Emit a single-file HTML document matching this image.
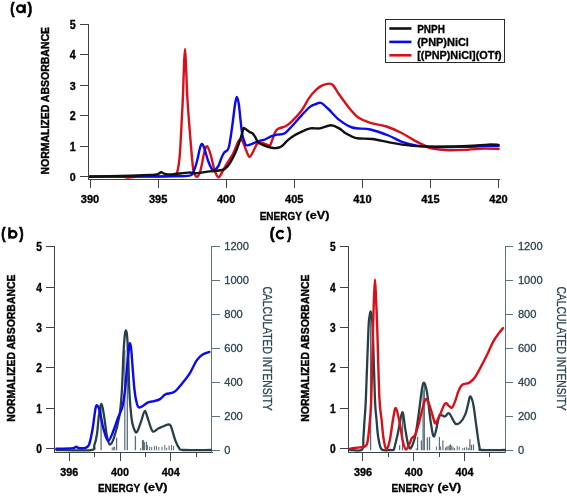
<!DOCTYPE html>
<html><head><meta charset="utf-8"><style>
html,body{margin:0;padding:0;background:#fff;}
svg{display:block;will-change:transform;}
text{font-family:"Liberation Sans",sans-serif;}
</style></head><body>
<svg width="567" height="496" viewBox="0 0 567 496">
<rect width="567" height="496" fill="#fff"/>
<line x1="88.5" y1="24" x2="88.5" y2="180" stroke="#3c4246" stroke-width="1.0"/>
<line x1="88" y1="179.5" x2="500" y2="179.5" stroke="#3c4246" stroke-width="1.0"/>
<line x1="80" y1="176.5" x2="89" y2="176.5" stroke="#3c4246" stroke-width="1.0"/>
<line x1="80" y1="146.5" x2="89" y2="146.5" stroke="#3c4246" stroke-width="1.0"/>
<line x1="80" y1="115.5" x2="89" y2="115.5" stroke="#3c4246" stroke-width="1.0"/>
<line x1="80" y1="85.5" x2="89" y2="85.5" stroke="#3c4246" stroke-width="1.0"/>
<line x1="80" y1="54.5" x2="89" y2="54.5" stroke="#3c4246" stroke-width="1.0"/>
<line x1="80" y1="24.5" x2="89" y2="24.5" stroke="#3c4246" stroke-width="1.0"/>
<line x1="90.5" y1="180" x2="90.5" y2="188" stroke="#3c4246" stroke-width="1.0"/>
<line x1="158.5" y1="180" x2="158.5" y2="188" stroke="#3c4246" stroke-width="1.0"/>
<line x1="226.5" y1="180" x2="226.5" y2="188" stroke="#3c4246" stroke-width="1.0"/>
<line x1="294.5" y1="180" x2="294.5" y2="188" stroke="#3c4246" stroke-width="1.0"/>
<line x1="362.5" y1="180" x2="362.5" y2="188" stroke="#3c4246" stroke-width="1.0"/>
<line x1="430.5" y1="180" x2="430.5" y2="188" stroke="#3c4246" stroke-width="1.0"/>
<line x1="498.5" y1="180" x2="498.5" y2="188" stroke="#3c4246" stroke-width="1.0"/>
<path d="M90.00,176.70 C95.00,176.68 113.50,176.45 120.00,176.60 C126.50,176.75 125.67,177.63 129.00,177.60 C132.33,177.57 134.83,176.63 140.00,176.40 C145.17,176.17 154.25,176.33 160.00,176.20 C165.75,176.07 171.63,176.30 174.50,175.60 C177.37,174.90 176.48,173.93 177.20,172.00 C177.92,170.07 178.32,167.50 178.80,164.00 C179.28,160.50 179.61,158.33 180.10,151.00 C180.59,143.67 181.27,129.33 181.75,120.00 C182.23,110.67 182.62,104.17 183.00,95.00 C183.38,85.83 183.67,72.67 184.00,65.00 C184.33,57.33 184.67,49.00 185.00,49.00 C185.33,49.00 185.63,57.33 186.00,65.00 C186.37,72.67 186.72,85.83 187.20,95.00 C187.68,104.17 188.20,110.67 188.90,120.00 C189.60,129.33 190.78,143.67 191.40,151.00 C192.02,158.33 192.20,160.50 192.60,164.00 C193.00,167.50 193.07,169.85 193.80,172.00 C194.53,174.15 195.97,176.90 197.00,176.90 C198.03,176.90 199.17,174.19 200.00,172.00 C200.83,169.81 201.25,167.21 202.00,163.75 C202.75,160.29 203.62,154.17 204.50,151.25 C205.38,148.33 206.21,145.62 207.25,146.25 C208.29,146.88 209.54,151.04 210.75,155.00 C211.96,158.96 213.21,166.28 214.50,170.00 C215.79,173.72 217.25,176.88 218.50,177.30 C219.75,177.72 220.77,174.50 222.00,172.50 C223.23,170.50 224.05,168.47 225.90,165.30 C227.75,162.13 231.05,157.47 233.10,153.50 C235.15,149.53 236.98,143.83 238.20,141.50 C239.42,139.17 239.60,139.42 240.40,139.50 C241.20,139.58 242.07,140.25 243.00,142.00 C243.93,143.75 244.92,147.50 246.00,150.00 C247.08,152.50 248.33,156.67 249.50,157.00 C250.67,157.33 251.67,154.25 253.00,152.00 C254.33,149.75 255.78,144.97 257.50,143.50 C259.22,142.03 261.28,142.87 263.30,143.20 C265.32,143.53 268.15,145.95 269.60,145.50 C271.05,145.05 271.10,142.67 272.00,140.50 C272.90,138.33 273.98,134.45 275.00,132.50 C276.02,130.55 276.27,129.88 278.10,128.80 C279.93,127.72 283.67,127.28 286.00,126.00 C288.33,124.72 289.47,123.73 292.10,121.10 C294.73,118.47 298.98,114.03 301.80,110.20 C304.62,106.37 306.58,101.52 309.00,98.10 C311.42,94.68 314.08,91.82 316.30,89.70 C318.52,87.58 320.08,86.42 322.30,85.40 C324.52,84.38 327.78,83.60 329.60,83.60 C331.42,83.60 331.60,83.58 333.20,85.40 C334.80,87.22 336.37,90.52 339.20,94.50 C342.03,98.48 347.03,105.48 350.20,109.30 C353.37,113.12 354.85,115.15 358.20,117.40 C361.55,119.65 365.58,121.28 370.30,122.80 C375.02,124.32 381.45,124.88 386.50,126.50 C391.55,128.12 395.90,130.15 400.60,132.50 C405.30,134.85 410.67,138.42 414.70,140.60 C418.73,142.78 422.08,144.32 424.80,145.60 C427.52,146.88 427.03,147.53 431.00,148.30 C434.97,149.07 442.50,149.97 448.60,150.20 C454.70,150.43 461.78,149.97 467.60,149.70 C473.42,149.43 478.33,148.72 483.50,148.60 C488.67,148.48 496.08,148.93 498.60,149.00" fill="none" stroke="#d8101a" stroke-width="2.4" stroke-linejoin="round" stroke-linecap="round"/>
<path d="M90.00,176.50 C96.67,176.50 118.33,176.48 130.00,176.50 C141.67,176.52 153.00,176.63 160.00,176.60 C167.00,176.57 167.08,176.47 172.00,176.30 C176.92,176.13 185.96,176.23 189.50,175.60 C193.04,174.97 192.00,174.89 193.25,172.50 C194.50,170.11 195.86,165.42 197.00,161.25 C198.14,157.08 199.27,150.38 200.10,147.50 C200.93,144.62 201.27,143.79 202.00,144.00 C202.73,144.21 203.46,145.88 204.50,148.75 C205.54,151.62 207.00,157.81 208.25,161.25 C209.50,164.69 211.06,167.84 212.00,169.40 C212.94,170.96 212.86,171.12 213.90,170.60 C214.94,170.07 217.07,168.18 218.25,166.25 C219.43,164.32 220.03,161.28 221.00,159.00 C221.97,156.72 222.83,154.43 224.10,152.60 C225.37,150.77 227.25,152.38 228.60,148.00 C229.95,143.62 231.13,133.55 232.20,126.30 C233.27,119.05 234.23,109.38 235.00,104.50 C235.77,99.62 236.17,97.08 236.80,97.00 C237.43,96.92 238.18,100.17 238.80,104.00 C239.42,107.83 239.93,115.07 240.50,120.00 C241.07,124.93 241.53,129.93 242.20,133.60 C242.87,137.27 243.73,140.03 244.50,142.00 C245.27,143.97 245.05,145.30 246.80,145.40 C248.55,145.50 252.77,143.40 255.00,142.60 C257.23,141.80 258.53,141.12 260.20,140.60 C261.87,140.08 263.08,140.23 265.00,139.50 C266.92,138.77 269.70,137.02 271.70,136.20 C273.70,135.38 274.88,135.05 277.00,134.60 C279.12,134.15 281.88,134.93 284.40,133.50 C286.92,132.07 289.20,129.07 292.10,126.00 C295.00,122.93 298.78,118.33 301.80,115.10 C304.82,111.87 307.83,108.45 310.20,106.60 C312.57,104.75 314.18,104.60 316.00,104.00 C317.82,103.40 319.03,102.17 321.10,103.00 C323.17,103.83 325.38,106.18 328.40,109.00 C331.42,111.82 335.23,116.82 339.20,119.90 C343.17,122.98 347.02,125.90 352.20,127.50 C357.38,129.10 364.25,128.17 370.30,129.50 C376.35,130.83 383.12,133.38 388.50,135.50 C393.88,137.62 397.90,140.52 402.60,142.20 C407.30,143.88 412.33,144.87 416.70,145.60 C421.07,146.33 424.92,146.37 428.80,146.60 C432.68,146.83 433.53,146.95 440.00,147.00 C446.47,147.05 459.55,147.07 467.60,146.90 C475.65,146.73 483.13,146.13 488.30,146.00 C493.47,145.87 496.88,146.08 498.60,146.10" fill="none" stroke="#0a0af0" stroke-width="2.4" stroke-linejoin="round" stroke-linecap="round"/>
<path d="M90.00,176.70 C95.00,176.58 110.00,176.28 120.00,176.00 C130.00,175.72 143.83,175.27 150.00,175.00 C156.17,174.73 155.13,174.85 157.00,174.40 C158.87,173.95 159.95,172.40 161.20,172.30 C162.45,172.20 162.70,173.45 164.50,173.80 C166.30,174.15 168.04,174.60 172.00,174.40 C175.96,174.20 184.08,172.82 188.25,172.60 C192.42,172.38 193.46,173.30 197.00,173.10 C200.54,172.90 205.33,171.92 209.50,171.40 C213.67,170.88 218.97,170.87 222.00,170.00 C225.03,169.13 225.53,168.95 227.70,166.20 C229.87,163.45 232.88,158.03 235.00,153.50 C237.12,148.97 239.05,143.00 240.40,139.00 C241.75,135.00 242.47,131.30 243.10,129.50 C243.73,127.70 243.13,127.80 244.20,128.20 C245.27,128.60 248.08,131.02 249.50,131.90 C250.92,132.78 251.73,132.62 252.70,133.50 C253.67,134.38 254.42,135.78 255.30,137.20 C256.18,138.62 256.67,140.67 258.00,142.00 C259.33,143.33 261.02,144.23 263.30,145.20 C265.58,146.17 269.23,147.37 271.70,147.80 C274.17,148.23 276.33,148.15 278.10,147.80 C279.87,147.45 280.72,146.93 282.30,145.70 C283.88,144.47 285.48,142.17 287.60,140.40 C289.72,138.63 292.93,136.42 295.00,135.10 C297.07,133.78 297.47,133.62 300.00,132.50 C302.53,131.38 306.88,129.08 310.20,128.40 C313.52,127.72 316.47,128.92 319.90,128.40 C323.33,127.88 327.58,125.30 330.80,125.30 C334.02,125.30 336.65,127.03 339.20,128.40 C341.75,129.77 343.27,131.88 346.10,133.50 C348.93,135.12 351.83,137.18 356.20,138.10 C360.57,139.02 366.58,138.25 372.30,139.00 C378.02,139.75 384.12,141.50 390.50,142.60 C396.88,143.70 404.22,144.93 410.60,145.60 C416.98,146.27 424.58,146.42 428.80,146.60 C433.02,146.78 429.43,146.82 435.90,146.70 C442.37,146.58 458.87,146.25 467.60,145.90 C476.33,145.55 483.13,144.77 488.30,144.60 C493.47,144.43 496.88,144.85 498.60,144.90" fill="none" stroke="#111111" stroke-width="2.4" stroke-linejoin="round" stroke-linecap="round"/>
<rect x="385.5" y="19.5" width="119" height="43" fill="#fff" stroke="#2a2a2a" stroke-width="1"/>
<line x1="389.30" y1="28.50" x2="411.50" y2="28.50" stroke="#111111" stroke-width="2.6"/>
<line x1="389.30" y1="41.90" x2="411.50" y2="41.90" stroke="#0a0af0" stroke-width="2.6"/>
<line x1="389.30" y1="55.30" x2="411.50" y2="55.30" stroke="#d8101a" stroke-width="2.6"/>
<line x1="54.5" y1="247" x2="54.5" y2="453" stroke="#3c4246" stroke-width="1.0"/>
<line x1="55" y1="452.5" x2="213" y2="452.5" stroke="#3c4246" stroke-width="1.0"/>
<line x1="46" y1="448.5" x2="55" y2="448.5" stroke="#3c4246" stroke-width="1.0"/>
<line x1="46" y1="408.5" x2="55" y2="408.5" stroke="#3c4246" stroke-width="1.0"/>
<line x1="46" y1="367.5" x2="55" y2="367.5" stroke="#3c4246" stroke-width="1.0"/>
<line x1="46" y1="327.5" x2="55" y2="327.5" stroke="#3c4246" stroke-width="1.0"/>
<line x1="46" y1="287.5" x2="55" y2="287.5" stroke="#3c4246" stroke-width="1.0"/>
<line x1="46" y1="246.5" x2="55" y2="246.5" stroke="#3c4246" stroke-width="1.0"/>
<line x1="69.5" y1="452" x2="69.5" y2="461" stroke="#3c4246" stroke-width="1.0"/>
<line x1="94.5" y1="452" x2="94.5" y2="457" stroke="#3c4246" stroke-width="1.0"/>
<line x1="120.5" y1="452" x2="120.5" y2="461" stroke="#3c4246" stroke-width="1.0"/>
<line x1="145.5" y1="452" x2="145.5" y2="457" stroke="#3c4246" stroke-width="1.0"/>
<line x1="170.5" y1="452" x2="170.5" y2="461" stroke="#3c4246" stroke-width="1.0"/>
<line x1="196.5" y1="452" x2="196.5" y2="457" stroke="#3c4246" stroke-width="1.0"/>
<line x1="211.5" y1="246" x2="211.5" y2="453" stroke="#5f747e" stroke-width="1.0"/>
<line x1="212" y1="450.5" x2="220" y2="450.5" stroke="#5f747e" stroke-width="1.0"/>
<line x1="212" y1="416.5" x2="220" y2="416.5" stroke="#5f747e" stroke-width="1.0"/>
<line x1="212" y1="382.5" x2="220" y2="382.5" stroke="#5f747e" stroke-width="1.0"/>
<line x1="212" y1="348.5" x2="220" y2="348.5" stroke="#5f747e" stroke-width="1.0"/>
<line x1="212" y1="314.5" x2="220" y2="314.5" stroke="#5f747e" stroke-width="1.0"/>
<line x1="212" y1="280.5" x2="220" y2="280.5" stroke="#5f747e" stroke-width="1.0"/>
<line x1="212" y1="246.5" x2="220" y2="246.5" stroke="#5f747e" stroke-width="1.0"/>
<line x1="101.10" y1="450.30" x2="101.10" y2="405.00" stroke="#5a6e78" stroke-width="1.3"/>
<line x1="112.20" y1="450.30" x2="112.20" y2="447.50" stroke="#5a6e78" stroke-width="1.0"/>
<line x1="113.30" y1="450.30" x2="113.30" y2="447.00" stroke="#5a6e78" stroke-width="1.0"/>
<line x1="114.60" y1="450.30" x2="114.60" y2="446.60" stroke="#5a6e78" stroke-width="1.0"/>
<line x1="116.60" y1="450.30" x2="116.60" y2="437.70" stroke="#5a6e78" stroke-width="1.3"/>
<line x1="124.80" y1="450.30" x2="124.80" y2="350.00" stroke="#5a6e78" stroke-width="1.2"/>
<line x1="127.30" y1="450.30" x2="127.30" y2="345.00" stroke="#5a6e78" stroke-width="1.3"/>
<line x1="135.40" y1="450.30" x2="135.40" y2="435.90" stroke="#5a6e78" stroke-width="1.3"/>
<line x1="140.60" y1="450.30" x2="140.60" y2="448.20" stroke="#5a6e78" stroke-width="1"/>
<line x1="142.50" y1="450.30" x2="142.50" y2="439.90" stroke="#5a6e78" stroke-width="1.2"/>
<line x1="143.50" y1="450.30" x2="143.50" y2="440.30" stroke="#5a6e78" stroke-width="1.2"/>
<line x1="144.60" y1="450.30" x2="144.60" y2="442.30" stroke="#5a6e78" stroke-width="1.1"/>
<line x1="146.50" y1="450.30" x2="146.50" y2="441.90" stroke="#5a6e78" stroke-width="1.1"/>
<line x1="147.40" y1="450.30" x2="147.40" y2="445.00" stroke="#5a6e78" stroke-width="1"/>
<line x1="149.70" y1="450.30" x2="149.70" y2="446.70" stroke="#5a6e78" stroke-width="1"/>
<line x1="151.70" y1="450.30" x2="151.70" y2="447.00" stroke="#5a6e78" stroke-width="1"/>
<line x1="154.40" y1="450.30" x2="154.40" y2="445.90" stroke="#5a6e78" stroke-width="1"/>
<line x1="156.40" y1="450.30" x2="156.40" y2="445.90" stroke="#5a6e78" stroke-width="1"/>
<line x1="158.80" y1="450.30" x2="158.80" y2="447.00" stroke="#5a6e78" stroke-width="1"/>
<line x1="162.00" y1="450.30" x2="162.00" y2="446.70" stroke="#5a6e78" stroke-width="1"/>
<line x1="164.80" y1="450.30" x2="164.80" y2="445.00" stroke="#5a6e78" stroke-width="1"/>
<line x1="166.70" y1="450.30" x2="166.70" y2="447.80" stroke="#5a6e78" stroke-width="1"/>
<line x1="169.10" y1="450.30" x2="169.10" y2="445.50" stroke="#5a6e78" stroke-width="1"/>
<line x1="171.50" y1="450.30" x2="171.50" y2="445.00" stroke="#5a6e78" stroke-width="1"/>
<line x1="173.50" y1="450.30" x2="173.50" y2="445.90" stroke="#5a6e78" stroke-width="1"/>
<path d="M56.40,450.00 C62.13,450.02 84.48,450.88 90.80,450.10 C97.12,449.32 93.27,448.02 94.30,445.30 C95.33,442.58 96.20,439.02 97.00,433.80 C97.80,428.58 98.35,419.00 99.10,414.00 C99.85,409.00 100.68,403.57 101.50,403.80 C102.32,404.03 103.12,410.17 104.00,415.40 C104.88,420.63 105.85,430.37 106.80,435.20 C107.75,440.03 108.52,443.93 109.70,444.40 C110.88,444.87 112.27,442.83 113.90,438.00 C115.53,433.17 118.17,423.40 119.50,415.40 C120.83,407.40 121.25,400.07 121.90,390.00 C122.55,379.93 122.92,364.17 123.40,355.00 C123.88,345.83 124.38,339.08 124.80,335.00 C125.22,330.92 125.53,330.50 125.90,330.50 C126.27,330.50 126.62,330.92 127.00,335.00 C127.38,339.08 127.82,345.83 128.20,355.00 C128.58,364.17 128.75,379.53 129.30,390.00 C129.85,400.47 130.77,411.47 131.50,417.80 C132.23,424.13 132.82,425.62 133.70,428.00 C134.58,430.38 135.53,433.30 136.80,432.10 C138.07,430.90 139.97,424.32 141.30,420.80 C142.63,417.28 143.67,411.25 144.80,411.00 C145.93,410.75 146.78,415.90 148.10,419.30 C149.42,422.70 150.93,429.90 152.70,431.40 C154.47,432.90 156.18,429.43 158.70,428.30 C161.22,427.17 165.78,424.97 167.80,424.60 C169.82,424.23 169.55,423.47 170.80,426.10 C172.05,428.73 173.92,436.75 175.30,440.40 C176.68,444.05 177.82,446.40 179.10,448.00 C180.38,449.60 177.68,449.67 183.00,450.00 C188.32,450.33 206.33,450.00 211.00,450.00" fill="none" stroke="#26404a" stroke-width="2.3" stroke-linejoin="round" stroke-linecap="round"/>
<path d="M56.40,448.80 C58.60,448.73 66.67,448.53 69.60,448.40 C72.53,448.27 72.88,448.30 74.00,448.00 C75.12,447.70 75.55,446.60 76.30,446.60 C77.05,446.60 76.97,447.80 78.50,448.00 C80.03,448.20 83.75,448.33 85.50,447.80 C87.25,447.27 87.97,447.13 89.00,444.80 C90.03,442.47 91.00,437.10 91.70,433.80 C92.40,430.50 92.57,429.23 93.20,425.00 C93.83,420.77 94.83,411.65 95.50,408.40 C96.17,405.15 96.48,405.03 97.20,405.50 C97.92,405.97 98.78,407.43 99.80,411.20 C100.82,414.97 101.90,423.17 103.30,428.10 C104.70,433.03 106.43,440.57 108.20,440.80 C109.97,441.03 112.25,433.38 113.90,429.50 C115.55,425.62 116.68,421.25 118.10,417.50 C119.52,413.75 121.25,411.58 122.40,407.00 C123.55,402.42 124.15,397.50 125.00,390.00 C125.85,382.50 126.80,369.33 127.50,362.00 C128.20,354.67 128.77,349.08 129.20,346.00 C129.63,342.92 129.75,342.83 130.10,343.50 C130.45,344.17 130.85,345.58 131.30,350.00 C131.75,354.42 132.30,363.67 132.80,370.00 C133.30,376.33 133.77,383.07 134.30,388.00 C134.83,392.93 135.20,396.35 136.00,399.60 C136.80,402.85 137.08,407.03 139.10,407.50 C141.12,407.97 145.58,403.47 148.10,402.40 C150.62,401.33 152.22,401.65 154.20,401.10 C156.18,400.55 158.10,400.25 160.00,399.10 C161.90,397.95 163.25,395.37 165.60,394.20 C167.95,393.03 171.27,393.98 174.10,392.10 C176.93,390.22 180.02,385.97 182.60,382.90 C185.18,379.83 187.25,377.47 189.60,373.70 C191.95,369.93 194.58,363.47 196.70,360.30 C198.82,357.13 200.18,356.10 202.30,354.70 C204.42,353.30 208.22,352.37 209.40,351.90" fill="none" stroke="#0a0af0" stroke-width="2.4" stroke-linejoin="round" stroke-linecap="round"/>
<line x1="348.5" y1="247" x2="348.5" y2="453" stroke="#3c4246" stroke-width="1.0"/>
<line x1="348" y1="452.5" x2="506" y2="452.5" stroke="#3c4246" stroke-width="1.0"/>
<line x1="340" y1="448.5" x2="349" y2="448.5" stroke="#3c4246" stroke-width="1.0"/>
<line x1="340" y1="408.5" x2="349" y2="408.5" stroke="#3c4246" stroke-width="1.0"/>
<line x1="340" y1="367.5" x2="349" y2="367.5" stroke="#3c4246" stroke-width="1.0"/>
<line x1="340" y1="327.5" x2="349" y2="327.5" stroke="#3c4246" stroke-width="1.0"/>
<line x1="340" y1="287.5" x2="349" y2="287.5" stroke="#3c4246" stroke-width="1.0"/>
<line x1="340" y1="246.5" x2="349" y2="246.5" stroke="#3c4246" stroke-width="1.0"/>
<line x1="362.5" y1="452" x2="362.5" y2="461" stroke="#3c4246" stroke-width="1.0"/>
<line x1="388.5" y1="452" x2="388.5" y2="457" stroke="#3c4246" stroke-width="1.0"/>
<line x1="413.5" y1="452" x2="413.5" y2="461" stroke="#3c4246" stroke-width="1.0"/>
<line x1="439.5" y1="452" x2="439.5" y2="457" stroke="#3c4246" stroke-width="1.0"/>
<line x1="464.5" y1="452" x2="464.5" y2="461" stroke="#3c4246" stroke-width="1.0"/>
<line x1="489.5" y1="452" x2="489.5" y2="457" stroke="#3c4246" stroke-width="1.0"/>
<line x1="505.5" y1="246" x2="505.5" y2="453" stroke="#5f747e" stroke-width="1.0"/>
<line x1="505" y1="450.5" x2="513" y2="450.5" stroke="#5f747e" stroke-width="1.0"/>
<line x1="505" y1="416.5" x2="513" y2="416.5" stroke="#5f747e" stroke-width="1.0"/>
<line x1="505" y1="382.5" x2="513" y2="382.5" stroke="#5f747e" stroke-width="1.0"/>
<line x1="505" y1="348.5" x2="513" y2="348.5" stroke="#5f747e" stroke-width="1.0"/>
<line x1="505" y1="314.5" x2="513" y2="314.5" stroke="#5f747e" stroke-width="1.0"/>
<line x1="505" y1="280.5" x2="513" y2="280.5" stroke="#5f747e" stroke-width="1.0"/>
<line x1="505" y1="246.5" x2="513" y2="246.5" stroke="#5f747e" stroke-width="1.0"/>
<line x1="370.60" y1="450.30" x2="370.60" y2="315.00" stroke="#5a6e78" stroke-width="1.3"/>
<line x1="399.60" y1="450.30" x2="399.60" y2="445.20" stroke="#5a6e78" stroke-width="1.2"/>
<line x1="402.50" y1="450.30" x2="402.50" y2="415.00" stroke="#5a6e78" stroke-width="1.3"/>
<line x1="416.20" y1="450.30" x2="416.20" y2="448.30" stroke="#5a6e78" stroke-width="1.0"/>
<line x1="417.60" y1="450.30" x2="417.60" y2="436.80" stroke="#5a6e78" stroke-width="1.3"/>
<line x1="421.40" y1="450.30" x2="421.40" y2="440.40" stroke="#5a6e78" stroke-width="1.3"/>
<line x1="423.10" y1="450.30" x2="423.10" y2="390.00" stroke="#5a6e78" stroke-width="1.3"/>
<line x1="424.30" y1="450.30" x2="424.30" y2="385.00" stroke="#5a6e78" stroke-width="1.3"/>
<line x1="427.40" y1="450.30" x2="427.40" y2="437.40" stroke="#5a6e78" stroke-width="1.3"/>
<line x1="429.50" y1="450.30" x2="429.50" y2="436.80" stroke="#5a6e78" stroke-width="1.3"/>
<line x1="436.40" y1="450.30" x2="436.40" y2="446.40" stroke="#5a6e78" stroke-width="1.0"/>
<line x1="439.40" y1="450.30" x2="439.40" y2="436.90" stroke="#5a6e78" stroke-width="1.2"/>
<line x1="440.60" y1="450.30" x2="440.60" y2="446.40" stroke="#5a6e78" stroke-width="1.0"/>
<line x1="442.90" y1="450.30" x2="442.90" y2="440.50" stroke="#5a6e78" stroke-width="1.2"/>
<line x1="445.50" y1="450.30" x2="445.50" y2="447.50" stroke="#5a6e78" stroke-width="1"/>
<line x1="446.80" y1="450.30" x2="446.80" y2="446.50" stroke="#5a6e78" stroke-width="1"/>
<line x1="448.00" y1="450.30" x2="448.00" y2="446.00" stroke="#5a6e78" stroke-width="1"/>
<line x1="449.30" y1="450.30" x2="449.30" y2="445.20" stroke="#5a6e78" stroke-width="1"/>
<line x1="450.50" y1="450.30" x2="450.50" y2="444.40" stroke="#5a6e78" stroke-width="1"/>
<line x1="451.80" y1="450.30" x2="451.80" y2="445.50" stroke="#5a6e78" stroke-width="1"/>
<line x1="453.00" y1="450.30" x2="453.00" y2="447.00" stroke="#5a6e78" stroke-width="1"/>
<line x1="454.50" y1="450.30" x2="454.50" y2="448.00" stroke="#5a6e78" stroke-width="1"/>
<line x1="457.20" y1="450.30" x2="457.20" y2="446.00" stroke="#5a6e78" stroke-width="1"/>
<line x1="459.20" y1="450.30" x2="459.20" y2="446.80" stroke="#5a6e78" stroke-width="1"/>
<line x1="462.80" y1="450.30" x2="462.80" y2="448.00" stroke="#5a6e78" stroke-width="1"/>
<line x1="464.50" y1="450.30" x2="464.50" y2="447.50" stroke="#5a6e78" stroke-width="1"/>
<line x1="466.70" y1="450.30" x2="466.70" y2="446.80" stroke="#5a6e78" stroke-width="1"/>
<line x1="468.30" y1="450.30" x2="468.30" y2="448.00" stroke="#5a6e78" stroke-width="1"/>
<line x1="469.90" y1="450.30" x2="469.90" y2="439.30" stroke="#5a6e78" stroke-width="1.2"/>
<line x1="471.50" y1="450.30" x2="471.50" y2="444.80" stroke="#5a6e78" stroke-width="1.2"/>
<line x1="473.50" y1="450.30" x2="473.50" y2="444.40" stroke="#5a6e78" stroke-width="1.2"/>
<path d="M350.00,450.00 C352.00,449.93 359.77,451.68 362.00,449.60 C364.23,447.52 362.98,442.33 363.40,437.50 C363.82,432.67 364.08,427.18 364.50,420.60 C364.92,414.02 365.25,413.10 365.90,398.00 C366.55,382.90 367.78,343.67 368.40,330.00 C369.02,316.33 369.23,319.08 369.60,316.00 C369.97,312.92 370.27,311.50 370.60,311.50 C370.93,311.50 371.23,312.92 371.60,316.00 C371.97,319.08 372.25,316.33 372.80,330.00 C373.35,343.67 374.27,382.90 374.90,398.00 C375.53,413.10 376.03,414.02 376.60,420.60 C377.17,427.18 377.45,432.70 378.30,437.50 C379.15,442.30 379.68,447.32 381.70,449.40 C383.72,451.48 388.42,449.93 390.40,450.00 C392.38,450.07 392.90,450.30 393.60,449.80 C394.30,449.30 393.83,450.02 394.60,447.00 C395.37,443.98 396.92,437.52 398.20,431.70 C399.48,425.88 401.10,412.40 402.30,412.10 C403.50,411.80 404.43,424.52 405.40,429.90 C406.37,435.28 407.18,441.38 408.10,444.40 C409.02,447.42 409.68,449.52 410.90,448.00 C412.12,446.48 414.05,441.35 415.40,435.30 C416.75,429.25 417.93,419.25 419.00,411.70 C420.07,404.15 420.95,394.83 421.80,390.00 C422.65,385.17 423.20,382.10 424.10,382.70 C425.00,383.30 426.08,386.95 427.20,393.60 C428.32,400.25 429.63,415.47 430.80,422.60 C431.97,429.73 432.82,437.42 434.20,436.40 C435.58,435.38 437.78,420.00 439.10,416.50 C440.42,413.00 441.10,415.40 442.10,415.40 C443.10,415.40 443.92,416.83 445.10,416.50 C446.28,416.17 447.52,412.23 449.20,413.40 C450.88,414.57 453.37,421.98 455.20,423.50 C457.03,425.02 458.52,424.02 460.20,422.50 C461.88,420.98 463.95,417.60 465.30,414.40 C466.65,411.20 467.47,406.32 468.30,403.30 C469.13,400.28 469.47,396.12 470.30,396.30 C471.13,396.48 472.28,399.37 473.30,404.40 C474.32,409.43 475.38,419.45 476.40,426.50 C477.42,433.55 478.47,442.78 479.40,446.70 C480.33,450.62 477.73,449.45 482.00,450.00 C486.27,450.55 501.17,450.00 505.00,450.00" fill="none" stroke="#26404a" stroke-width="2.3" stroke-linejoin="round" stroke-linecap="round"/>
<path d="M350.10,448.60 C351.42,448.43 356.00,447.83 358.00,447.60 C360.00,447.37 360.93,447.38 362.10,447.20 C363.27,447.02 364.18,447.03 365.00,446.50 C365.82,445.97 366.47,445.50 367.00,444.00 C367.53,442.50 367.72,441.40 368.20,437.50 C368.68,433.60 369.38,427.18 369.90,420.60 C370.42,414.02 370.78,413.10 371.30,398.00 C371.82,382.90 372.57,346.33 373.00,330.00 C373.43,313.67 373.57,308.42 373.90,300.00 C374.23,291.58 374.63,279.50 375.00,279.50 C375.37,279.50 375.72,291.58 376.10,300.00 C376.48,308.42 376.75,313.67 377.30,330.00 C377.85,346.33 378.67,382.90 379.40,398.00 C380.13,413.10 381.03,414.02 381.70,420.60 C382.37,427.18 382.65,432.73 383.40,437.50 C384.15,442.27 385.15,448.65 386.20,449.20 C387.25,449.75 388.53,445.97 389.70,440.80 C390.87,435.63 392.17,423.63 393.20,418.20 C394.23,412.77 394.77,407.17 395.90,408.20 C397.03,409.23 398.87,418.97 400.00,424.40 C401.13,429.83 401.70,436.60 402.70,440.80 C403.70,445.00 404.78,449.30 406.00,449.60 C407.22,449.90 409.03,444.52 410.00,442.60 C410.97,440.68 410.90,439.47 411.80,438.10 C412.70,436.73 414.20,436.98 415.40,434.40 C416.60,431.82 417.63,427.58 419.00,422.60 C420.37,417.62 422.38,408.43 423.60,404.50 C424.82,400.57 425.25,398.70 426.30,399.00 C427.35,399.30 428.68,402.97 429.90,406.30 C431.12,409.63 432.65,416.17 433.60,419.00 C434.55,421.83 434.52,424.07 435.60,423.30 C436.68,422.53 438.52,417.70 440.10,414.40 C441.68,411.10 443.62,404.90 445.10,403.50 C446.58,402.10 447.82,405.33 449.00,406.00 C450.18,406.67 451.05,408.67 452.20,407.50 C453.35,406.33 454.85,401.75 455.90,399.00 C456.95,396.25 457.43,393.37 458.50,391.00 C459.57,388.63 460.47,386.20 462.30,384.80 C464.13,383.40 467.38,383.87 469.50,382.60 C471.62,381.33 472.88,380.23 475.00,377.20 C477.12,374.17 480.08,368.33 482.20,364.40 C484.32,360.47 485.88,357.37 487.70,353.60 C489.52,349.83 491.28,345.13 493.10,341.80 C494.92,338.47 496.93,335.88 498.60,333.60 C500.27,331.32 502.35,329.02 503.10,328.10" fill="none" stroke="#d8101a" stroke-width="2.4" stroke-linejoin="round" stroke-linecap="round"/>
<text transform="matrix(1.0750,0,0,1.4286,10.200,13.729)" font-size="12" font-weight="bold" fill="#000" stroke="#000" stroke-width="0.5">(</text>
<text transform="matrix(1.1750,0,0,1.4286,27.600,13.729)" font-size="12" font-weight="bold" fill="#000" stroke="#000" stroke-width="0.5">)</text>
<ellipse cx="20.5" cy="8.7" rx="3.4" ry="3.4" fill="none" stroke="#000" stroke-width="2.2"/>
<line x1="24.70" y1="4.20" x2="24.70" y2="13.20" stroke="#000" stroke-width="2.2"/>
<text transform="matrix(1.0750,0,0,1.4107,1.300,238.673)" font-size="12" font-weight="bold" fill="#000" stroke="#000" stroke-width="0.5">(</text>
<text transform="matrix(1.1000,0,0,1.4107,19.200,238.673)" font-size="12" font-weight="bold" fill="#000" stroke="#000" stroke-width="0.5">)</text>
<ellipse cx="12.9" cy="234.3" rx="3.5" ry="3.3" fill="none" stroke="#000" stroke-width="2.3"/>
<line x1="9.40" y1="227.30" x2="9.40" y2="238.70" stroke="#000" stroke-width="2.3"/>
<text transform="matrix(1.2250,0,0,1.4018,269.700,238.896)" font-size="12" font-weight="bold" fill="#000" stroke="#000" stroke-width="0.5">(</text>
<text transform="matrix(1.0750,0,0,1.4018,287.200,238.896)" font-size="12" font-weight="bold" fill="#000" stroke="#000" stroke-width="0.5">)</text>
<path d="M283.42,232.42 A3.7,3.7 0 1 0 283.42,236.98" fill="none" stroke="#000" stroke-width="2.3"/>
<text transform="matrix(0.8955,0,0,0.9765,69.800,180.802)" font-size="12" font-weight="bold" fill="#000" stroke="#000" stroke-width="0.35">0</text>
<text transform="matrix(0.8955,0,0,1.0000,69.800,150.500)" font-size="12" font-weight="bold" fill="#000" stroke="#000" stroke-width="0.35">1</text>
<text transform="matrix(0.8955,0,0,0.9881,69.800,120.100)" font-size="12" font-weight="bold" fill="#000" stroke="#000" stroke-width="0.35">2</text>
<text transform="matrix(0.8955,0,0,0.9765,69.800,89.602)" font-size="12" font-weight="bold" fill="#000" stroke="#000" stroke-width="0.35">3</text>
<text transform="matrix(0.8955,0,0,1.0000,69.800,59.300)" font-size="12" font-weight="bold" fill="#000" stroke="#000" stroke-width="0.35">4</text>
<text transform="matrix(0.8955,0,0,0.9881,69.800,28.801)" font-size="12" font-weight="bold" fill="#000" stroke="#000" stroke-width="0.35">5</text>
<text transform="matrix(0.9200,0,0,0.9412,80.800,202.906)" font-size="12" font-weight="bold" fill="#000" stroke="#000" stroke-width="0.35">390</text>
<text transform="matrix(0.9200,0,0,0.9412,148.883,202.906)" font-size="12" font-weight="bold" fill="#000" stroke="#000" stroke-width="0.35">395</text>
<text transform="matrix(0.9200,0,0,0.9412,216.967,202.906)" font-size="12" font-weight="bold" fill="#000" stroke="#000" stroke-width="0.35">400</text>
<text transform="matrix(0.9200,0,0,0.9412,285.050,202.906)" font-size="12" font-weight="bold" fill="#000" stroke="#000" stroke-width="0.35">405</text>
<text transform="matrix(0.9200,0,0,0.9412,353.133,202.906)" font-size="12" font-weight="bold" fill="#000" stroke="#000" stroke-width="0.35">410</text>
<text transform="matrix(0.9200,0,0,0.9524,421.217,202.905)" font-size="12" font-weight="bold" fill="#000" stroke="#000" stroke-width="0.35">415</text>
<text transform="matrix(0.9200,0,0,0.9412,489.300,202.906)" font-size="12" font-weight="bold" fill="#000" stroke="#000" stroke-width="0.35">420</text>
<text transform="matrix(0.8343,0,0,0.9176,259.700,219.508)" font-size="12" font-weight="bold" fill="#000" stroke="#000" stroke-width="0.35">ENERGY</text>
<text transform="matrix(1.0485,0,0,0.8482,305.600,218.879)" font-size="12" font-weight="bold" fill="#000" stroke="#000" stroke-width="0.35">(eV)</text>
<text transform="matrix(0,-0.8751,0.9529,0,48.605,174.600)" font-size="12" font-weight="bold" fill="#000" stroke="#000" stroke-width="0.45">NORMALIZED ABSORBANCE</text>
<text transform="matrix(0.8318,0,0,0.9277,417.200,32.500)" font-size="12" font-weight="bold" fill="#000" stroke="#000" stroke-width="0.35">PNPH</text>
<text transform="matrix(0.9136,0,0,0.8929,417.200,45.768)" font-size="12" font-weight="bold" fill="#000" stroke="#000" stroke-width="0.35">(PNP)NiCl</text>
<text transform="matrix(0.9057,0,0,0.8929,417.200,58.768)" font-size="12" font-weight="bold" fill="#000" stroke="#000" stroke-width="0.35">[(PNP)NiCl](OTf)</text>
<text transform="matrix(0.8507,0,0,1.0000,36.300,452.700)" font-size="12" font-weight="bold" fill="#000" stroke="#000" stroke-width="0.35">0</text>
<text transform="matrix(0.8507,0,0,1.0241,36.300,412.500)" font-size="12" font-weight="bold" fill="#000" stroke="#000" stroke-width="0.35">1</text>
<text transform="matrix(0.8507,0,0,1.0119,36.300,372.200)" font-size="12" font-weight="bold" fill="#000" stroke="#000" stroke-width="0.35">2</text>
<text transform="matrix(0.8507,0,0,1.0000,36.300,331.800)" font-size="12" font-weight="bold" fill="#000" stroke="#000" stroke-width="0.35">3</text>
<text transform="matrix(0.8507,0,0,1.0241,36.300,291.600)" font-size="12" font-weight="bold" fill="#000" stroke="#000" stroke-width="0.35">4</text>
<text transform="matrix(0.8507,0,0,1.0119,36.300,251.199)" font-size="12" font-weight="bold" fill="#000" stroke="#000" stroke-width="0.35">5</text>
<text transform="matrix(0.9000,0,0,0.9412,60.200,475.806)" font-size="12" font-weight="bold" fill="#000" stroke="#000" stroke-width="0.35">396</text>
<text transform="matrix(0.9000,0,0,0.9412,111.000,475.806)" font-size="12" font-weight="bold" fill="#000" stroke="#000" stroke-width="0.35">400</text>
<text transform="matrix(0.9000,0,0,0.9412,161.800,475.806)" font-size="12" font-weight="bold" fill="#000" stroke="#000" stroke-width="0.35">404</text>
<text transform="matrix(0.8363,0,0,0.9176,97.900,491.508)" font-size="12" font-weight="bold" fill="#000" stroke="#000" stroke-width="0.35">ENERGY</text>
<text transform="matrix(1.0485,0,0,0.8482,143.800,490.879)" font-size="12" font-weight="bold" fill="#000" stroke="#000" stroke-width="0.35">(eV)</text>
<text transform="matrix(0,-0.8727,0.9529,0,15.105,421.700)" font-size="12" font-weight="bold" fill="#000" stroke="#000" stroke-width="0.45">NORMALIZED ABSORBANCE</text>
<text transform="matrix(0.9254,0,0,0.9529,224.200,454.205)" font-size="12" font-weight="normal" fill="#2c4450" stroke="#2c4450" stroke-width="0.3">0</text>
<text transform="matrix(0.9300,0,0,0.9529,224.200,420.205)" font-size="12" font-weight="normal" fill="#2c4450" stroke="#2c4450" stroke-width="0.3">200</text>
<text transform="matrix(0.9300,0,0,0.9529,224.200,386.205)" font-size="12" font-weight="normal" fill="#2c4450" stroke="#2c4450" stroke-width="0.3">400</text>
<text transform="matrix(0.9300,0,0,0.9529,224.200,352.205)" font-size="12" font-weight="normal" fill="#2c4450" stroke="#2c4450" stroke-width="0.3">600</text>
<text transform="matrix(0.9300,0,0,0.9529,224.200,318.205)" font-size="12" font-weight="normal" fill="#2c4450" stroke="#2c4450" stroke-width="0.3">800</text>
<text transform="matrix(0.9288,0,0,0.9529,224.200,284.205)" font-size="12" font-weight="normal" fill="#2c4450" stroke="#2c4450" stroke-width="0.3">1000</text>
<text transform="matrix(0.9288,0,0,0.9529,224.200,250.205)" font-size="12" font-weight="normal" fill="#2c4450" stroke="#2c4450" stroke-width="0.3">1200</text>
<text transform="matrix(0,0.8609,-1.0000,0,263.300,286.400)" font-size="12" font-weight="normal" fill="#2c4450" stroke="#2c4450" stroke-width="0.3">CALCULATED INTENSITY</text>
<text transform="matrix(0.8507,0,0,1.0000,330.000,452.700)" font-size="12" font-weight="bold" fill="#000" stroke="#000" stroke-width="0.35">0</text>
<text transform="matrix(0.8507,0,0,1.0241,330.000,412.500)" font-size="12" font-weight="bold" fill="#000" stroke="#000" stroke-width="0.35">1</text>
<text transform="matrix(0.8507,0,0,1.0119,330.000,372.200)" font-size="12" font-weight="bold" fill="#000" stroke="#000" stroke-width="0.35">2</text>
<text transform="matrix(0.8507,0,0,1.0000,330.000,331.800)" font-size="12" font-weight="bold" fill="#000" stroke="#000" stroke-width="0.35">3</text>
<text transform="matrix(0.8507,0,0,1.0241,330.000,291.600)" font-size="12" font-weight="bold" fill="#000" stroke="#000" stroke-width="0.35">4</text>
<text transform="matrix(0.8507,0,0,1.0119,330.000,251.199)" font-size="12" font-weight="bold" fill="#000" stroke="#000" stroke-width="0.35">5</text>
<text transform="matrix(0.9000,0,0,0.9412,353.900,475.806)" font-size="12" font-weight="bold" fill="#000" stroke="#000" stroke-width="0.35">396</text>
<text transform="matrix(0.9000,0,0,0.9412,404.700,475.806)" font-size="12" font-weight="bold" fill="#000" stroke="#000" stroke-width="0.35">400</text>
<text transform="matrix(0.9000,0,0,0.9412,455.500,475.806)" font-size="12" font-weight="bold" fill="#000" stroke="#000" stroke-width="0.35">404</text>
<text transform="matrix(0.8363,0,0,0.9176,391.600,491.508)" font-size="12" font-weight="bold" fill="#000" stroke="#000" stroke-width="0.35">ENERGY</text>
<text transform="matrix(1.0485,0,0,0.8482,437.500,490.879)" font-size="12" font-weight="bold" fill="#000" stroke="#000" stroke-width="0.35">(eV)</text>
<text transform="matrix(0,-0.8727,0.9529,0,308.805,421.700)" font-size="12" font-weight="bold" fill="#000" stroke="#000" stroke-width="0.45">NORMALIZED ABSORBANCE</text>
<text transform="matrix(0.9254,0,0,0.9529,517.900,454.205)" font-size="12" font-weight="normal" fill="#2c4450" stroke="#2c4450" stroke-width="0.3">0</text>
<text transform="matrix(0.9300,0,0,0.9529,517.900,420.205)" font-size="12" font-weight="normal" fill="#2c4450" stroke="#2c4450" stroke-width="0.3">200</text>
<text transform="matrix(0.9300,0,0,0.9529,517.900,386.205)" font-size="12" font-weight="normal" fill="#2c4450" stroke="#2c4450" stroke-width="0.3">400</text>
<text transform="matrix(0.9300,0,0,0.9529,517.900,352.205)" font-size="12" font-weight="normal" fill="#2c4450" stroke="#2c4450" stroke-width="0.3">600</text>
<text transform="matrix(0.9300,0,0,0.9529,517.900,318.205)" font-size="12" font-weight="normal" fill="#2c4450" stroke="#2c4450" stroke-width="0.3">800</text>
<text transform="matrix(0.9288,0,0,0.9529,517.900,284.205)" font-size="12" font-weight="normal" fill="#2c4450" stroke="#2c4450" stroke-width="0.3">1000</text>
<text transform="matrix(0.9288,0,0,0.9529,517.900,250.205)" font-size="12" font-weight="normal" fill="#2c4450" stroke="#2c4450" stroke-width="0.3">1200</text>
<text transform="matrix(0,0.8609,-1.0000,0,557.000,286.400)" font-size="12" font-weight="normal" fill="#2c4450" stroke="#2c4450" stroke-width="0.3">CALCULATED INTENSITY</text>
</svg></body></html>
